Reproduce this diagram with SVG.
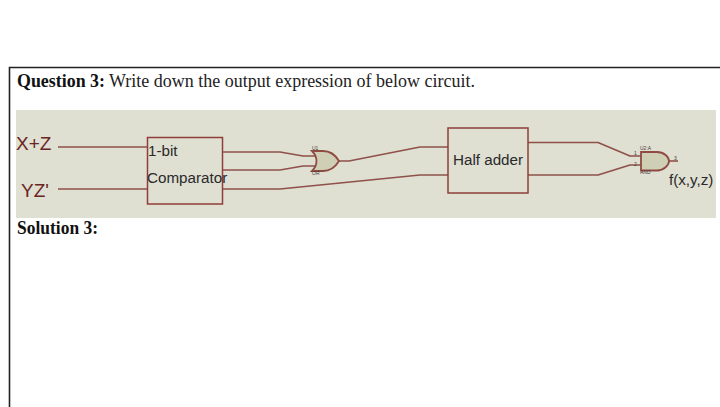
<svg xmlns="http://www.w3.org/2000/svg" width="720" height="407" viewBox="0 0 720 407">
<style>
.doc{font-family:"Liberation Serif","DejaVu Serif",serif;font-size:18px;fill:#222}
.b{font-weight:bold;fill:#111}
.s{font-family:"Liberation Sans",Arial,sans-serif;font-size:15.2px;fill:#2a2a2a}
.r{font-family:"Liberation Sans",Arial,sans-serif;font-size:19px;fill:#6a2422}
.t{font-family:"Liberation Sans",Arial,sans-serif;font-size:5px;fill:#4a3a38}
.w{fill:none;stroke:#8f514a;stroke-width:1.6;stroke-linejoin:round}
.box{fill:#dfdfd2;stroke:#8f3f3a;stroke-width:1.5}
.gate{fill:#cfcfb6;stroke:#8f4a42;stroke-width:1.8}
</style>
<rect width="720" height="407" fill="#fff"/>
<g id="frame"><path d="M720 67.500H9.500V407" fill="none" stroke="#222" stroke-width="1.6"/></g>
<g id="heading">
<text class="doc b" x="17" y="87" textLength="88" lengthAdjust="spacingAndGlyphs">Question 3:</text>
<text class="doc" x="109" y="87" textLength="366" lengthAdjust="spacingAndGlyphs">Write down the output expression of below circuit.</text>
</g>
<rect id="panel" x="16" y="110" width="700" height="108" fill="#dfdfd2"/>
<g id="connectors">
<path class="w" d="M58 147H147"/>
<path class="w" d="M58 189H147"/>
<path class="w" d="M222 152H280L303 156H316"/>
<path class="w" d="M222 170H280L303 166H316"/>
<path class="w" d="M222 189H280L420 175H448"/>
<path class="w" d="M339 161H349L420 147H448"/>
<path class="w" d="M528 142.500H598L630 156H641"/>
<path class="w" d="M528 175H598L630 165H641"/>
<path class="w" d="M669 161H678"/>
</g>
<g id="comparator">
<rect class="box" x="147.500" y="137.500" width="75" height="66.500"/>
<text class="s" x="148" y="156">1-bit</text>
<text class="s" x="147" y="183">Comparator</text>
</g>
<g id="or-gate">
<path class="gate" d="M312 151H323C331 151 336 156 339 161C336 166 331 171 323 171H312C318 165 318 157 312 151Z"/>
<text class="t" x="312" y="150">U1</text>
<text class="t" x="312" y="175">OR</text>
</g>
<g id="half-adder">
<rect class="box" x="448" y="128" width="80" height="65"/>
<text class="s" x="453" y="165">Half adder</text>
</g>
<g id="and-gate">
<path class="gate" d="M641 152H657C664 152 669 157 669 161C669 165 664 170.500 657 170.500H641Z"/>
<text class="t" x="640" y="150">U2:A</text>
<text class="t" x="640" y="174">AND</text>
<text class="t" x="634" y="155">1</text>
<text class="t" x="634" y="166">2</text>
<text class="t" x="674" y="160">3</text>
</g>
<g id="labels">
<text class="r" x="16" y="150">X+Z</text>
<text class="r" x="21" y="197">YZ'</text>
<text class="s" x="669" y="185">f(x,y,z)</text>
</g>
<g id="solution"><text class="doc b" x="17" y="234" textLength="81" lengthAdjust="spacingAndGlyphs">Solution 3:</text></g>
</svg>
